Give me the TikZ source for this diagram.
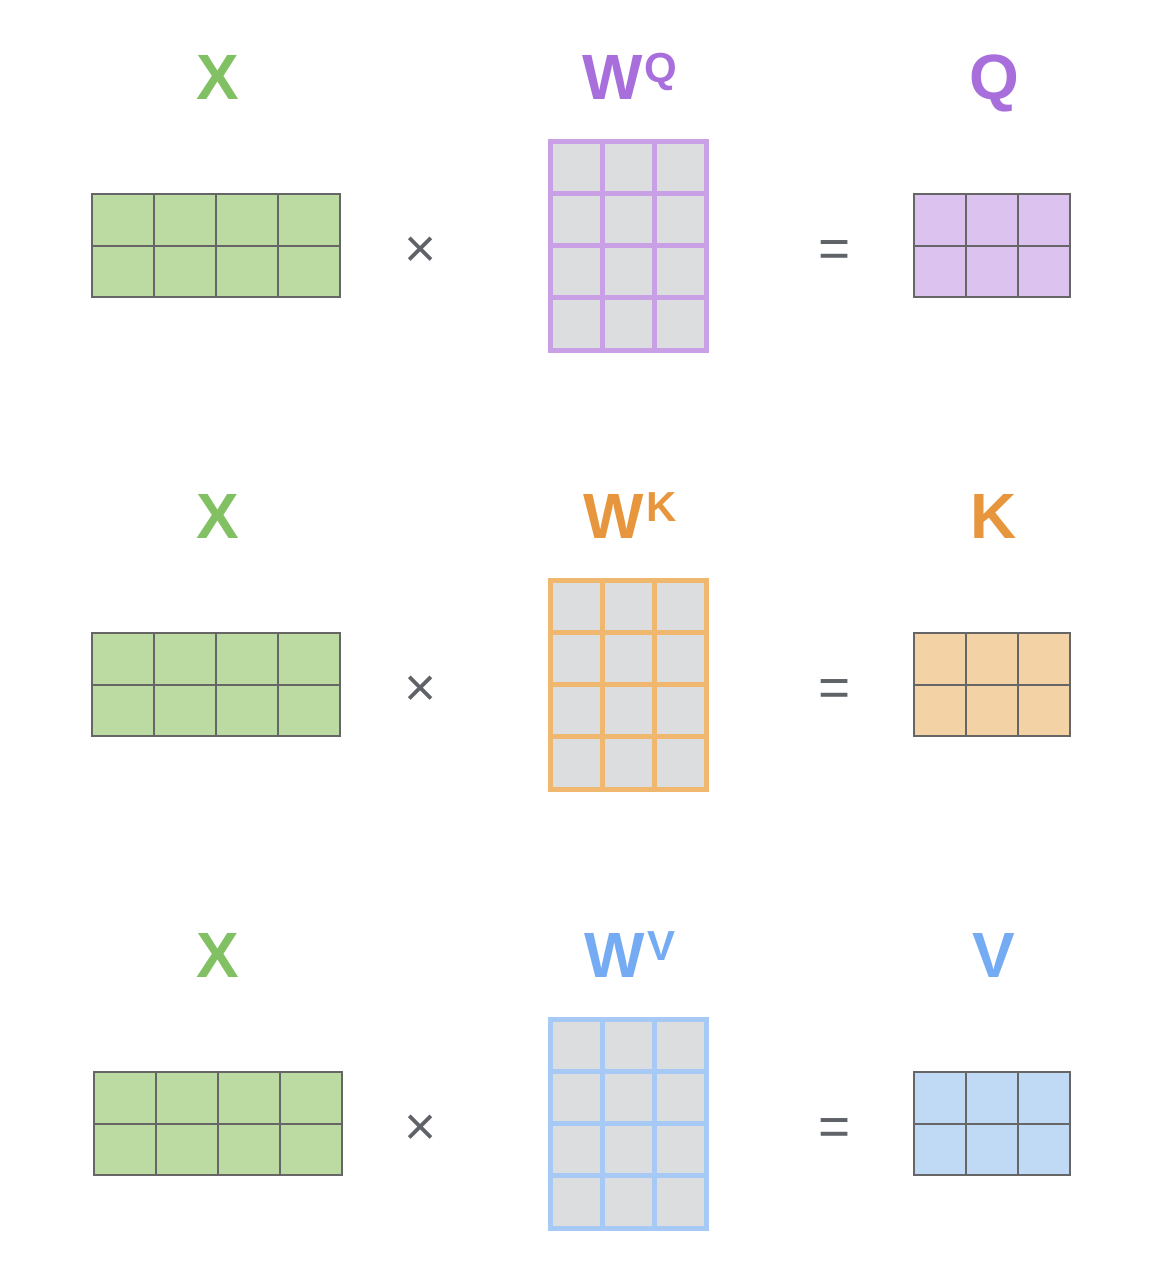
\documentclass[tikz,border=0pt]{standalone}
\usepackage{fontspec}
\setmainfont{Liberation Sans}
\definecolor{greenL}{HTML}{82C064}
\definecolor{greenF}{HTML}{BBDBA3}
\definecolor{gridG}{HTML}{666666}
\definecolor{wfill}{HTML}{DCDDDF}
\definecolor{opG}{HTML}{5F6368}
\definecolor{purpleL}{HTML}{A86FDC}
\definecolor{purpleS}{HTML}{C9A0E6}
\definecolor{purpleF}{HTML}{DCC3EF}
\definecolor{orangeL}{HTML}{E8963E}
\definecolor{orangeS}{HTML}{F0B86E}
\definecolor{orangeF}{HTML}{F3D2A5}
\definecolor{blueL}{HTML}{74ABF2}
\definecolor{blueS}{HTML}{A6C9F6}
\definecolor{blueF}{HTML}{C0DAF6}
\begin{document}
\begin{tikzpicture}[x=1pt,y=-1pt,
  lab/.style={inner sep=0pt,anchor=base,font=\fontsize{64}{64}\selectfont\bfseries},
  op/.style={inner sep=0pt,text=opG,font=\fontsize{55}{55}\selectfont},
  cell/.style={draw=gridG,line width=2pt,line join=miter},
  wcell/.style={line width=5pt,line join=miter,fill=wfill}]
\useasboundingbox (0,0) rectangle (1156,1270);
\foreach \r/\oy/\xo/\sup/\lc/\wc/\fc in {1/0/0/Q/purpleL/purpleS/purpleF,2/439/0/K/orangeL/orangeS/orangeF,3/878/2/V/blueL/blueS/blueF}{
  % X matrix
  \foreach \i in {0,...,3}{
    \foreach \j in {0,1}{
      \draw[cell,fill=greenF] ({92+\xo+62*\i},{194+\oy+51.5*\j}) rectangle ++(62,51.5);
    }
  }
  % W matrix
  \foreach \i in {0,1,2}{
    \foreach \j in {0,...,3}{
      \draw[wcell,draw=\wc] ({550+52*\i},{141+\oy+52.25*\j}) rectangle ++(52,52.25);
    }
  }
  % result matrix
  \foreach \i in {0,1,2}{
    \foreach \j in {0,1}{
      \draw[cell,fill=\fc] ({914+52*\i},{194+\oy+51.5*\j}) rectangle ++(52,51.5);
    }
  }
  % labels
  \node[lab,text=greenL] (x\r) at (218,99+\oy) {X};
  \node[lab,text=\lc] (w\r) at (630,99+\oy) {W\kern2pt\raisebox{17pt}{\fontsize{42}{42}\selectfont\sup}};
  \node[lab,text=\lc] (r\r) at (994,99+\oy) {\sup};
  \node[op] (t\r) at (421,252+\oy) {×};
  \node[op] (e\r) at (835,254+\oy) {=};
}
\end{tikzpicture}
\end{document}
